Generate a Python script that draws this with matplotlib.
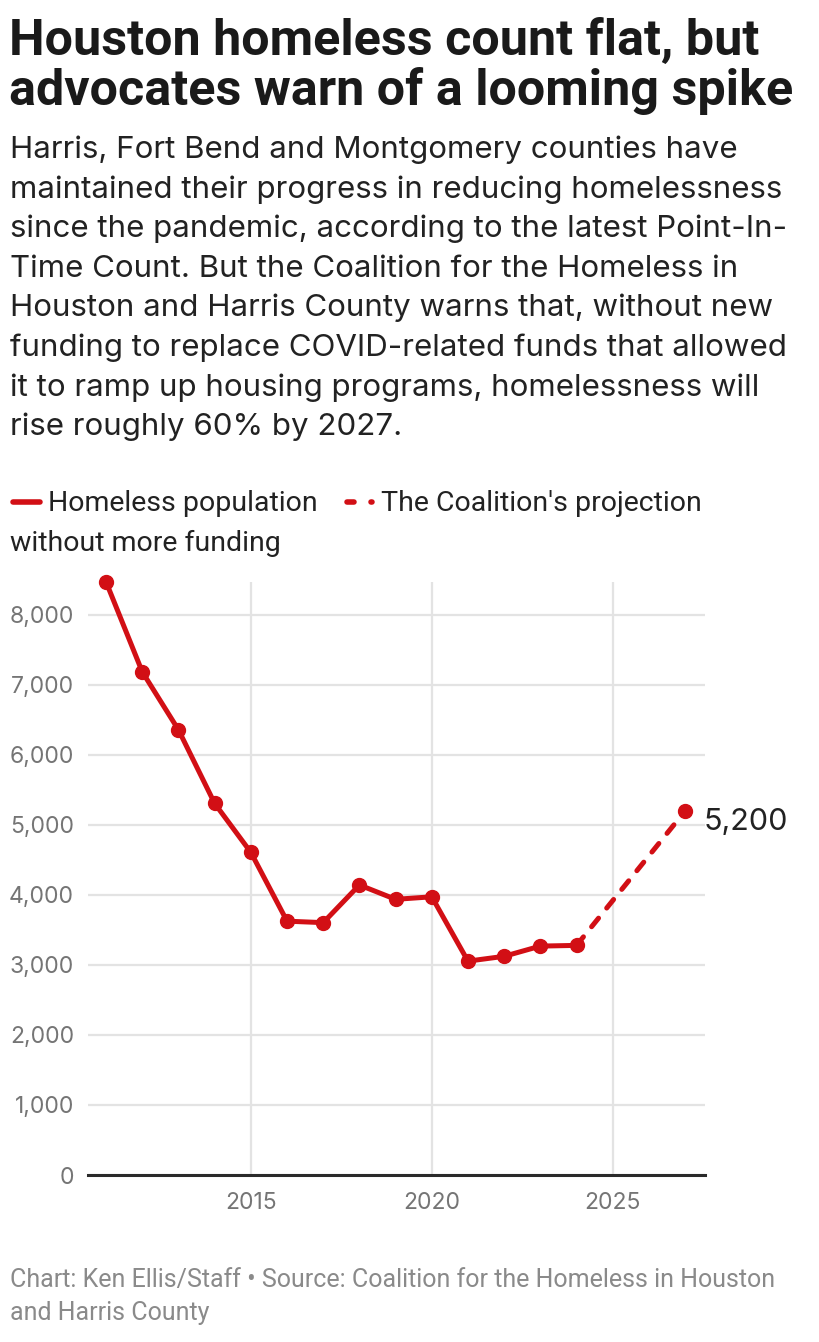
import matplotlib
matplotlib.use("Agg")
import matplotlib.pyplot as plt
from matplotlib.ticker import FuncFormatter

years = [2011, 2012, 2013, 2014, 2015, 2016, 2017, 2018, 2019, 2020, 2021, 2022, 2023, 2024]
homeless = [8471, 7187, 6359, 5308, 4609, 3626, 3605, 4143, 3938, 3974, 3055, 3124, 3270, 3280]
proj_years = [2024, 2027]
proj_values = [3280, 5200]
yticks = [0, 1000, 2000, 3000, 4000, 5000, 6000, 7000, 8000]
xticks = [2015, 2020, 2025]

title_lines = ["Houston homeless count flat, but", "advocates warn of a looming spike"]
subtitle_lines = [
    "Harris, Fort Bend and Montgomery counties have",
    "maintained their progress in reducing homelessness",
    "since the pandemic, according to the latest Point-In-",
    "Time Count. But the Coalition for the Homeless in",
    "Houston and Harris County warns that, without new",
    "funding to replace COVID-related funds that allowed",
    "it to ramp up housing programs, homelessness will",
    "rise roughly 60% by 2027.",
]
legend1 = "Homeless population"
legend2a = "The Coalition's projection"
legend2b = "without more funding"
footer_lines = ["Chart: Ken Ellis/Staff \u2022 Source: Coalition for the Homeless in Houston",
                "and Harris County"]

RED = "#d20f15"
W, H = 820, 1342
fig = plt.figure(figsize=(W / 100, H / 100), dpi=100)

def fx(px):
    return px / W

def fy(py):
    return 1 - py / H

# Title
for i, line in enumerate(title_lines):
    fig.text(fx(9), fy(55 + i * 50), line, fontsize=36.2, fontweight="bold",
             family="Roboto", color="#1a1a1a", va="baseline", ha="left")

# Subtitle
for i, line in enumerate(subtitle_lines):
    fig.text(fx(10), fy(158 + i * 39.6), line, fontsize=22.5, family="Inter",
             color="#222222", va="baseline", ha="left")

# Legend
fig.add_artist(plt.Line2D([fx(13), fx(40)], [fy(502), fy(502)], color=RED, lw=4,
                          solid_capstyle="round", transform=fig.transFigure))
fig.text(fx(48), fy(511), legend1, fontsize=20.5, family="Roboto", color="#222222",
         va="baseline", ha="left")
fig.add_artist(plt.Line2D([fx(347), fx(354)], [fy(502), fy(502)], color=RED, lw=4,
                          solid_capstyle="round", transform=fig.transFigure))
fig.add_artist(plt.Line2D([fx(371), fx(372)], [fy(502), fy(502)], color=RED, lw=4,
                          solid_capstyle="round", transform=fig.transFigure))
fig.text(fx(381), fy(511), legend2a, fontsize=20.5, family="Roboto", color="#222222",
         va="baseline", ha="left")
fig.text(fx(10), fy(551), legend2b, fontsize=20.5, family="Roboto", color="#222222",
         va="baseline", ha="left")

# Axes
ax_left, ax_right, ax_top, ax_bottom = 88, 705, 582, 1175
ax = fig.add_axes([fx(ax_left), fy(ax_bottom), (ax_right - ax_left) / W, (ax_bottom - ax_top) / H])
ax.set_xlim(2010.5, 2027.55)
ax.set_ylim(0, max(homeless))
ax.set_yticks(yticks)
ax.set_xticks(xticks)
ax.yaxis.set_major_formatter(FuncFormatter(lambda v, p: f"{int(v):,}"))
ax.grid(True, color="#e3e3e3", lw=1.6)
ax.set_axisbelow(True)
for s in ["top", "right", "left"]:
    ax.spines[s].set_visible(False)
ax.spines["bottom"].set_color("#2a2a2a")
ax.spines["bottom"].set_linewidth(2.2)
ax.spines["bottom"].set_zorder(5)
ax.tick_params(axis="both", length=0, labelsize=16.5, labelcolor="#757575")
ax.tick_params(axis="y", pad=10)
ax.tick_params(axis="x", pad=12)
for lab in ax.get_xticklabels() + ax.get_yticklabels():
    lab.set_family("Inter")

ax.plot(proj_years, proj_values, color=RED, lw=3.6, linestyle=(0, (2.2, 2.6)),
        dash_capstyle="round", zorder=3, clip_on=False)
ax.plot(proj_years[-1:], proj_values[-1:], "o", color=RED, ms=10, zorder=4, clip_on=False)
ax.plot(years, homeless, color=RED, lw=3.6, marker="o", ms=10, zorder=4, clip_on=False,
        solid_joinstyle="round")
ax.annotate(f"{proj_values[-1]:,}", (proj_years[-1], proj_values[-1]), xytext=(13, -8),
            textcoords="offset points", fontsize=22, family="Inter", color="#222222",
            va="center", ha="left", annotation_clip=False)

# Footer
for i, line in enumerate(footer_lines):
    fig.text(fx(10), fy(1287 + i * 33), line, fontsize=18, family="Roboto",
             color="#8a8a8a", va="baseline", ha="left")

fig.savefig("out.png", dpi=100)
